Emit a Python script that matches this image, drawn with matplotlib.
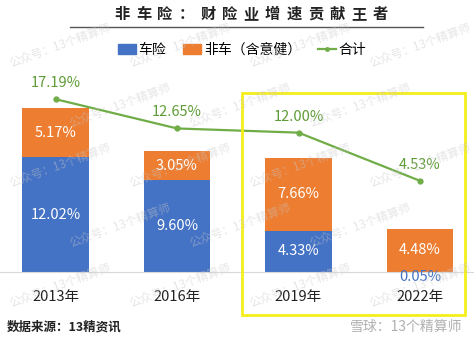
import matplotlib
matplotlib.use("Agg")
import matplotlib.pyplot as plt
import numpy as np
from matplotlib.patches import Patch, Rectangle
from matplotlib.lines import Line2D

plt.rcParams['font.family'] = ['Noto Sans CJK SC', 'DejaVu Sans']

# 数据
years = ["2013年", "2016年", "2019年", "2022年"]
car = [12.02, 9.60, 4.33, 0.05]          # 车险
noncar = [5.17, 3.05, 7.66, 4.48]        # 非车（含意健）
total = [17.19, 12.65, 12.00, 4.53]      # 合计
title = "非车险：财险业增速贡献王者"

blue = "#4472C4"
orange = "#ED7D31"
green = "#70AD47"
green_txt = "#5E9C36"

fig = plt.figure(figsize=(4.74, 3.48), dpi=100)
W, H = 474, 348

def fx(px):
    return px / W

def fy(py):
    return 1 - py / H

ax = fig.add_axes([0, fy(272), 1, fy(60) - fy(272)])
x = np.arange(len(years))
ax.bar(x, car, width=0.55, color=blue, zorder=2)
ax.bar(x, noncar, width=0.55, bottom=car, color=orange, zorder=2)
ax.set_xlim(-0.457, 3.444)
ax.set_ylim(0, 22.2)

for i in range(len(years)):
    if car[i] > 1:
        ax.text(x[i], car[i] / 2, f"{car[i]:.2f}%", color="white", ha="center", va="center",
                fontsize=10.5, zorder=4)
    else:
        ax.text(x[i], -0.5, f"{car[i]:.2f}%", color=blue, ha="center", va="center",
                fontsize=10.5, zorder=4)
    ax.text(x[i], car[i] + noncar[i] / 2, f"{noncar[i]:.2f}%", color="white", ha="center",
            va="center", fontsize=10.5, zorder=4)

ax2 = ax.twinx()
ax2.plot(x, total, color=green, lw=1.6, marker="o", ms=3.5, zorder=3)
ax2.set_ylim(-9.6, 23.26)
for i in range(len(years)):
    ax2.annotate(f"{total[i]:.2f}%", (x[i], total[i]), xytext=(0, 11.5), textcoords="offset points",
                 ha="center", va="center", color=green_txt, fontsize=10.5)

for a in (ax, ax2):
    for s in ["top", "left", "right"]:
        a.spines[s].set_visible(False)
    a.set_yticks([])
ax2.spines["bottom"].set_visible(False)
ax.spines["bottom"].set_color("#d9d9d9")
ax.set_xticks(x)
ax.set_xticklabels(years, fontsize=10.5, color="#222222")
ax.tick_params(axis="x", length=0, pad=13)

# 标题（字间距拉开）
step = (380 - 122) / (len(title) - 1)
for k, ch in enumerate(title):
    fig.text(fx(122 + k * step), fy(14), ch, ha="center", va="center",
             fontsize=11, fontweight="bold", color="#222222")
fig.add_artist(Line2D([fx(70), fx(423)], [fy(27), fy(27)], color="#555555", lw=1))

# 图例
handles = [Patch(color=blue, label="车险"),
           Patch(color=orange, label="非车（含意健）"),
           Line2D([], [], color=green, marker="o", ms=2.5, lw=1.6, label="合计")]
fig.legend(handles=handles, loc="center", bbox_to_anchor=(fx(242), fy(50)), ncol=3, frameon=False,
           fontsize=10, handlelength=1.3, handleheight=0.8, handletextpad=0.2, columnspacing=1.2)

# 黄色框
fig.add_artist(Rectangle((fx(242), fy(315)), fx(465) - fx(242), fy(93) - fy(315),
                         transform=fig.transFigure, fill=False, edgecolor="#F5EE1A", lw=2, zorder=5))

fig.text(fx(7), fy(327), "数据来源：13精资讯", ha="left", va="center", fontsize=9, fontweight="bold",
         color="#222222")
fig.text(fx(462), fy(327), "雪球：13个精算师", ha="right", va="center", fontsize=10, color="#b0b0b0")

# 水印
for r, py in enumerate([45, 105, 165, 225, 285]):
    off = 0 if r % 2 == 0 else 60
    for px in [60, 180, 300, 420]:
        cx = px + off
        if cx > 420:
            continue
        fig.text(fx(cx), fy(py), "公众号：13个精算师", ha="center", va="center", fontsize=8.5,
                 style="italic", rotation=20, color="#c8c8c8", alpha=0.45, zorder=6)

fig.savefig("out.png", dpi=100)
